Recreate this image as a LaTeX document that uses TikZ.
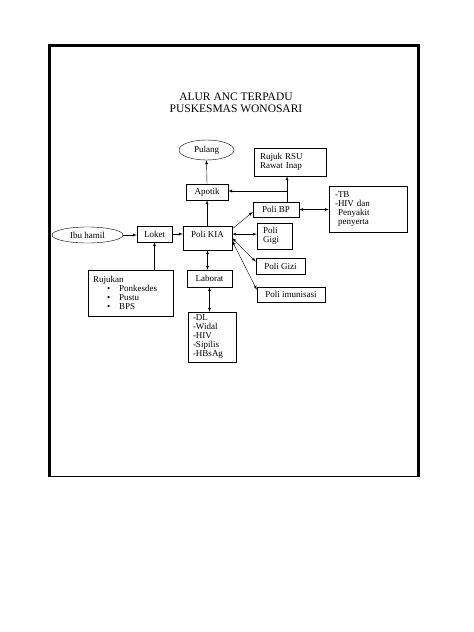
\documentclass[tikz,border=0pt]{standalone}
\usepackage{fontspec}
\setmainfont{Liberation Serif}
\usetikzlibrary{shapes.geometric}
\begin{document}
\begin{tikzpicture}[x=1pt,y=-1pt,>=latex,
   kotak/.style={draw,thin,rectangle,inner sep=2pt,font=\fontsize{9}{9}\selectfont},
   kotakteks/.style={kotak,inner xsep=6pt,align=left},
   bulat/.style={draw,thin,ellipse,inner sep=0pt,font=\fontsize{9}{9}\selectfont}]
   \useasboundingbox (0,0) rectangle (474,632);
   % bingkai halaman
   \draw[line width=3pt] (49.5,476) -- (49.5,45.5) -- (418.5,45.5) -- (418.5,476);
   \draw[thin] (48,476) -- (420,476);
   % judul
   \node[font=\fontsize{11.5}{12}\selectfont] (judulA) at (236,97) {ALUR ANC TERPADU};
   \node[font=\fontsize{11.5}{12}\selectfont] (judulB) at (236,109) {PUSKESMAS WONOSARI};
   % kotak satu baris
   \foreach \nama/\x/\y/\w/\h/\isi in {apotik/207/192/42/16/Apotik, polibp/276/209.5/46/15/Poli BP,
      loket/154.5/234/35/16/Loket, gizi/280.5/266/49/16/Poli Gizi,
      imun/291/294.5/68/15/Poli imunisasi, laborat/209.5/278.5/45/17/Laborat}
   {
       \node[kotak,minimum width=\w,minimum height=\h] (\nama) at (\x,\y) {\isi};
   }
   \node[kotak,minimum width=49,minimum height=24,text depth=8pt] (polikia) at (207.5,238) {Poli KIA};
   \node[bulat,minimum width=55,minimum height=20] (pulang) at (206.5,150) {Pulang};
   \node[bulat,minimum width=71,minimum height=16] (ibu) at (87.5,235) {Ibu hamil};
   % kotak beberapa baris
   \node[kotakteks,text width=60,minimum height=28] (rujuk) at (290,162) {Rujuk RSU\\Rawat Inap};
   \node[kotakteks,text width=66,minimum height=46] (tb) at (368,209)
      {-TB\\-HIV dan\\\hspace*{3pt}Penyakit\\\hspace*{3pt}penyerta};
   \node[kotakteks,text width=23,minimum height=26] (gigi) at (274.5,236) {Poli\\Gigi};
   \node[kotakteks,inner xsep=5pt,text width=75,minimum height=46] (rujukan) at (130.5,293)
      {Rujukan\\\hspace*{14pt}\textbullet\hspace{9pt}Ponkesdes\\\hspace*{14pt}\textbullet\hspace{9pt}Pustu\\\hspace*{14pt}\textbullet\hspace{9pt}BPS};
   \node[kotakteks,inner xsep=5pt,text width=38,minimum height=50] (lab) at (212,337)
      {-DL\\-Widal\\-HIV\\-Sipilis\\-HBsAg};
   % panah
   \draw[->] (ibu.east) -- (ibu.east -| loket.west);
   \draw[->] (loket.east) -- (loket.east -| polikia.west);
   \draw[->] (rujukan.north -| loket.south) -- (loket.south);
   \draw[->] (polikia.north -| apotik.south) -- (apotik.south);
   \draw[->] (apotik.north) -- (pulang.south);
   \coordinate (belok) at (287,191);
   \draw[->] (belok |- polibp.north) -- (belok |- rujuk.south);
   \draw[->] (belok) -- (belok -| apotik.east);
   \draw[<->] (polibp.east) -- (polibp.east -| tb.west);
   \draw[->] (polikia.20) -- (polibp.186);
   \draw[<->] (polikia.9) -- (polikia.9 -| gigi.west);
   \draw[<->] (polikia.east) -- (gizi.170);
   \draw[<->] (polikia.-7) -- (imun.172);
   \draw[<->] (polikia.south) -- (polikia.south |- laborat.north);
   \draw[<->] (laborat.south) -- (laborat.south |- lab.north);
\end{tikzpicture}
\end{document}
